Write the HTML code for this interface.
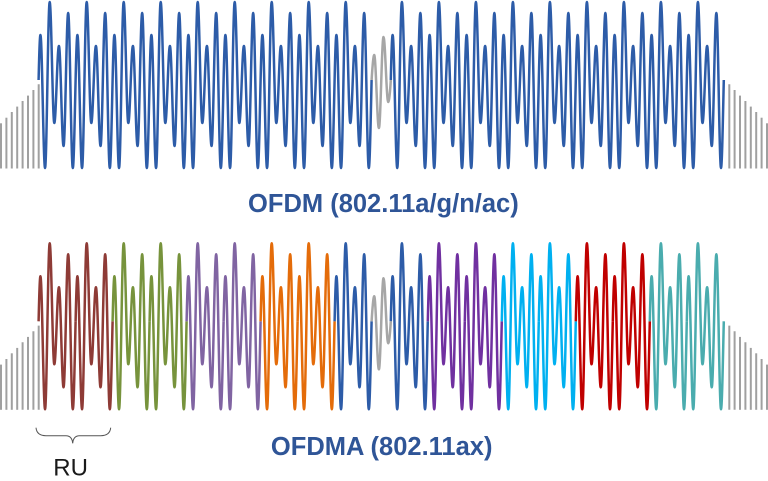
<!DOCTYPE html>
<html>
<head>
<meta charset="utf-8">
<style>
html,body{margin:0;padding:0;background:#fff;}
svg{display:block;}
</style>
</head>
<body>
<svg width="768" height="481" viewBox="0 0 768 481" xmlns="http://www.w3.org/2000/svg">
<defs>
<path id="per" fill="none" d="M0,80 c0.5783,-24.723 1.1708,-45.004 1.8282,-45.004 c1.6835,0 2.9415,133 4.625,133 c1.6835,0 2.9415,-166 4.625,-166 c1.6835,0 2.9415,121 4.625,121 c1.6835,0 2.9415,-77 4.625,-77 c1.6835,0 2.9415,100 4.625,100 c1.6835,0 2.9415,-133 4.625,-133 c1.6835,0 2.9415,155 4.625,155 c1.0261,0 1.8941,-49.408 2.7968,-87.996"/>
<path id="mid" fill="none" d="M371.6,80 c0.9,-14 1.8,-25 2.6,-25 c1.7,0 3,73 4.7,73 c1.66,0 2.94,-91 4.6,-91 c1.7,0 3,65 4.7,65 c0.9,0 1.9,-10 2.6,-22"/>
<g id="bars" stroke="#a0a0a0" stroke-width="2">
<line x1="1" y1="123.3" x2="1" y2="168.5"/>
<line x1="6.4" y1="117.7" x2="6.4" y2="168.5"/>
<line x1="11.8" y1="112" x2="11.8" y2="168.5"/>
<line x1="17.2" y1="106.6" x2="17.2" y2="168.5"/>
<line x1="22.6" y1="101" x2="22.6" y2="168.5"/>
<line x1="28" y1="95.6" x2="28" y2="168.5"/>
<line x1="33.4" y1="90" x2="33.4" y2="168.5"/>
<line x1="38.7" y1="84.3" x2="38.7" y2="168.5"/>
<line x1="729.3" y1="84.3" x2="729.3" y2="168.5"/>
<line x1="734.6" y1="90" x2="734.6" y2="168.5"/>
<line x1="740" y1="95.6" x2="740" y2="168.5"/>
<line x1="745.4" y1="101" x2="745.4" y2="168.5"/>
<line x1="750.8" y1="106.6" x2="750.8" y2="168.5"/>
<line x1="756.2" y1="112" x2="756.2" y2="168.5"/>
<line x1="761.6" y1="117.7" x2="761.6" y2="168.5"/>
<line x1="767" y1="123.3" x2="767" y2="168.5"/>
</g>
</defs>

<rect width="768" height="481" fill="#fff"/>

<!-- TOP: OFDM -->
<use href="#bars"/>
<g stroke="#2d5ca8" stroke-width="2.5" fill="none">
<use href="#per" x="38.6"/>
<use href="#per" x="75.6"/>
<use href="#per" x="112.6"/>
<use href="#per" x="149.6"/>
<use href="#per" x="186.6"/>
<use href="#per" x="223.6"/>
<use href="#per" x="260.6"/>
<use href="#per" x="297.6"/>
<use href="#per" x="334.6"/>
<use href="#per" x="390.8"/>
<use href="#per" x="427.8"/>
<use href="#per" x="464.8"/>
<use href="#per" x="501.8"/>
<use href="#per" x="538.8"/>
<use href="#per" x="575.8"/>
<use href="#per" x="612.8"/>
<use href="#per" x="649.8"/>
<use href="#per" x="686.8"/>
</g>
<use href="#mid" stroke="#a6a6a6" stroke-width="2.5"/>

<text x="383.4" y="212" text-anchor="middle" font-family="Liberation Sans, Arial, sans-serif" font-weight="bold" font-size="25.5" fill="#2f5597">OFDM (802.11a/g/n/ac)</text>

<!-- BOTTOM: OFDMA -->
<g transform="translate(0,241.3)">
<use href="#bars"/>
<g stroke-width="2.5" fill="none">
<use href="#per" x="38.6" stroke="#8e3b36"/>
<use href="#per" x="75.6" stroke="#8e3b36"/>
<use href="#per" x="112.6" stroke="#77933c"/>
<use href="#per" x="149.6" stroke="#77933c"/>
<use href="#per" x="186.6" stroke="#8064a2"/>
<use href="#per" x="223.6" stroke="#8064a2"/>
<use href="#per" x="260.6" stroke="#e46c0a"/>
<use href="#per" x="297.6" stroke="#e46c0a"/>
<use href="#per" x="334.6" stroke="#2d5ca8"/>
<use href="#per" x="390.8" stroke="#2d5ca8"/>
<use href="#per" x="427.8" stroke="#7030a0"/>
<use href="#per" x="464.8" stroke="#7030a0"/>
<use href="#per" x="501.8" stroke="#00b0f0"/>
<use href="#per" x="538.8" stroke="#00b0f0"/>
<use href="#per" x="575.8" stroke="#c00000"/>
<use href="#per" x="612.8" stroke="#c00000"/>
<use href="#per" x="649.8" stroke="#4aacae"/>
<use href="#per" x="686.8" stroke="#4aacae"/>
</g>
<use href="#mid" stroke="#a6a6a6" stroke-width="2.5"/>
</g>

<path d="M36,427.7 C36.5,433 40,435.7 46,435.7 L66,435.7 C70,435.7 72.2,438 72.7,443.3 C73.2,438 75.4,435.7 79.4,435.7 L100.7,435.7 C106.7,435.7 110.2,433 110.7,427.7" fill="none" stroke="#555" stroke-width="1"/>

<text x="53.3" y="475.7" font-family="Liberation Sans, Arial, sans-serif" font-size="24" fill="#1a1a1a">RU</text>

<text x="381.7" y="455" text-anchor="middle" font-family="Liberation Sans, Arial, sans-serif" font-weight="bold" font-size="25.5" fill="#2f5597">OFDMA (802.11ax)</text>
</svg>
</body>
</html>
